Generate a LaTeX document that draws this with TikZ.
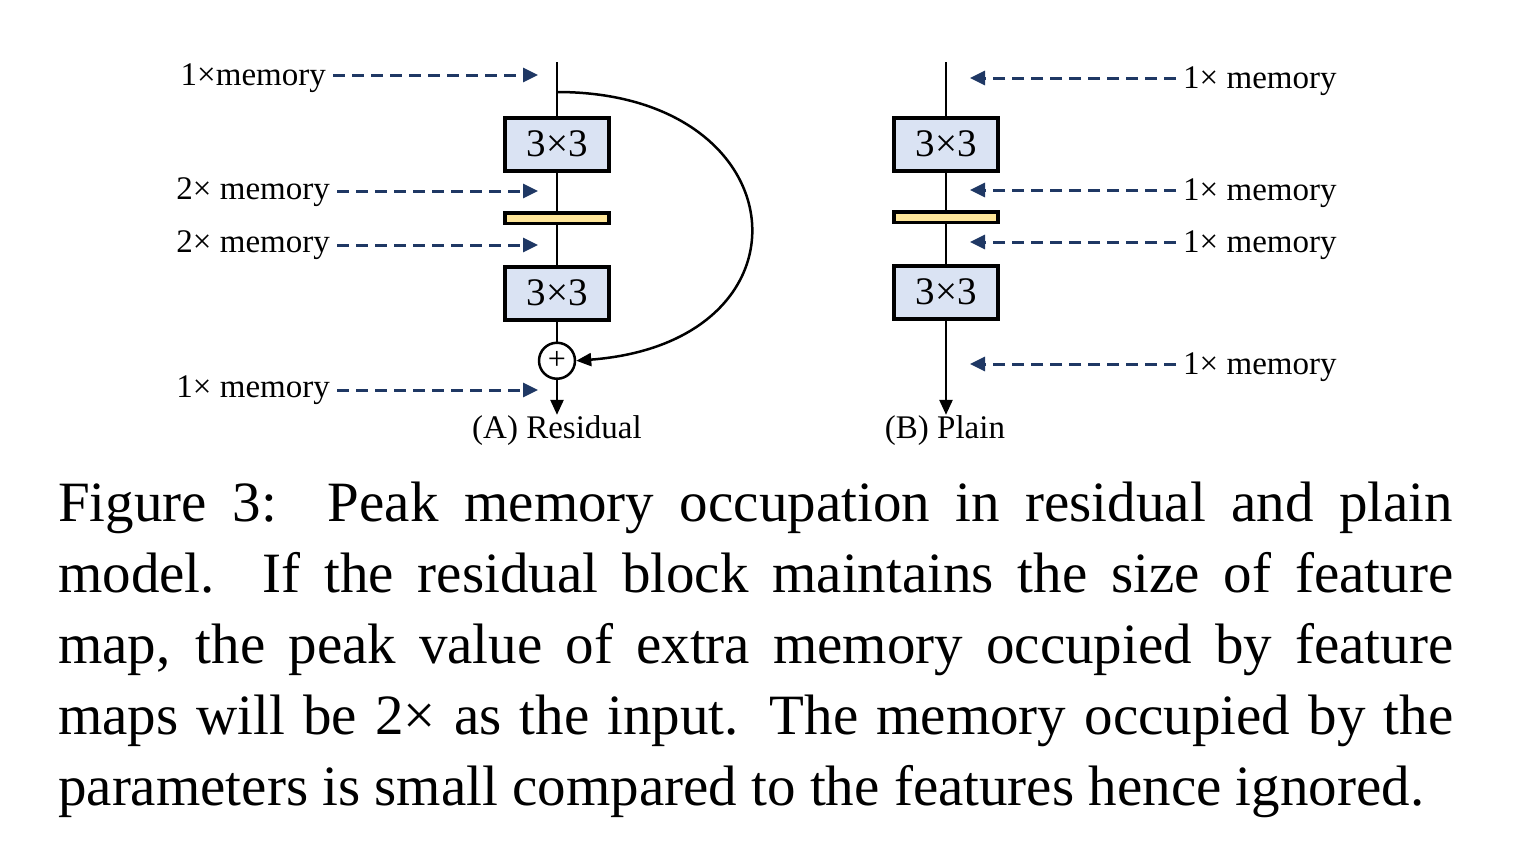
\documentclass[tikz,border=0pt]{standalone}
\usepackage{fontspec}
\setmainfont{Liberation Serif}
\usepackage{xcolor}
\usepackage{tikz}
\usetikzlibrary{positioning, arrows.meta}

\definecolor{convblue}{HTML}{DAE3F3}
\definecolor{baryellow}{HTML}{FFE699}
\definecolor{memnavy}{HTML}{1F3864}

\begin{document}
\begin{tikzpicture}[
    x=1pt, y=-1pt,
    conv/.style={draw, line width=3.5pt, fill=convblue, minimum width=104pt, minimum height=53pt, inner sep=0pt, font=\fontsize{39}{39}\selectfont},
    normbar/.style={draw, line width=3.5pt, fill=baryellow, minimum width=104pt, minimum height=10.5pt, inner sep=0pt},
    sum/.style={circle, draw, line width=2.5pt, minimum size=36pt, inner sep=0pt, font=\fontsize{32}{32}\selectfont},
    mem/.style={font=\fontsize{33}{33}\selectfont, inner ysep=0pt, inner xsep=7pt},
    title/.style={font=\fontsize{33}{33}\selectfont, inner sep=0pt},
    flow/.style={line width=2.5pt},
    flowarrow/.style={line width=2.5pt, -{Triangle[length=15pt, width=13pt]}},
    memarrow/.style={memnavy, line width=3pt, dash pattern=on 12pt off 7pt, -{Triangle[length=15pt, width=14pt]}},
    caption/.style={font=\fontsize{57}{71}\selectfont, text width=1395pt, align=justify, inner sep=0pt},
  ]
  \useasboundingbox (0,0) rectangle (1531,846);

  % --- (A) Residual ---
  \coordinate (topA) at (557,62);
  \coordinate[below=30pt of topA] (splitA);
  \node[conv, below=54pt of topA] (convA1) {3×3};
  \node[normbar, below=38.5pt of convA1] (barA) {};
  \node[conv, below=40pt of barA] (convA2) {3×3};
  \node[sum, below=20pt of convA2] (sumA) {+};
  \node[title] (titleA) at (557,431) {(A) Residual};

  \draw[flow] (topA) -- (convA1);
  \draw[flow] (convA1) -- (barA);
  \draw[flow] (barA) -- (convA2);
  \draw[flow] (convA2) -- (sumA);
  \draw[flowarrow] (sumA) -- ([yshift=1pt]titleA.north);
  \draw[flowarrow] (splitA) .. controls (800,92) and (822,342) .. (sumA.east);

  % --- memory labels (A) ---
  \coordinate (tipA1) at (538,75);
  \coordinate (tipA2) at (538,191);
  \coordinate (tipA3) at (538,245);
  \coordinate (tipA4) at (538,390);
  \node[mem, anchor=east] (memA1) at (333,78) {1×memory};
  \node[mem, anchor=east] (memA2) at (337,192) {2× memory};
  \node[mem, anchor=east] (memA3) at (337,245) {2× memory};
  \node[mem, anchor=east] (memA4) at (337,390) {1× memory};
  \foreach \i in {1,...,4}
    \draw[memarrow] (memA\i.east |- tipA\i) -- (tipA\i);

  % --- (B) Plain ---
  \coordinate (topB) at (946,62);
  \node[conv, below=54pt of topB] (convB1) {3×3};
  \node[normbar, below=37.5pt of convB1] (barB) {};
  \node[conv, below=40pt of barB] (convB2) {3×3};
  \node[title] (titleB) at (945,431) {(B) Plain};

  \draw[flow] (topB) -- (convB1);
  \draw[flow] (convB1) -- (barB);
  \draw[flow] (barB) -- (convB2);
  \draw[flowarrow] (convB2) -- ([yshift=1pt]titleB.north -| convB2);

  % --- memory labels (B) ---
  \coordinate (tipB1) at (970,78);
  \coordinate (tipB2) at (970,190);
  \coordinate (tipB3) at (970,242);
  \coordinate (tipB4) at (970,364);
  \foreach \i/\y in {1/78, 2/190, 3/242, 4/364} {
    \node[mem, anchor=west] (memB\i) at (1176,\y+3) {1× memory};
    \draw[memarrow] (memB\i.west |- tipB\i) -- (tipB\i);
  }

  % --- Caption ---
  \node[caption, anchor=north west] (figcap) at (58,482) {\hyphenpenalty=10000\tolerance=10000
    Figure 3:\ \ Peak memory occupation in residual and plain\linebreak
    model.\ \ If the residual block maintains the size of feature\linebreak
    map, the peak value of extra memory occupied by feature\linebreak
    maps will be 2× as the input. The memory occupied by the\linebreak
    parameters is small compared to the features hence ignored.};

\end{tikzpicture}
\end{document}
